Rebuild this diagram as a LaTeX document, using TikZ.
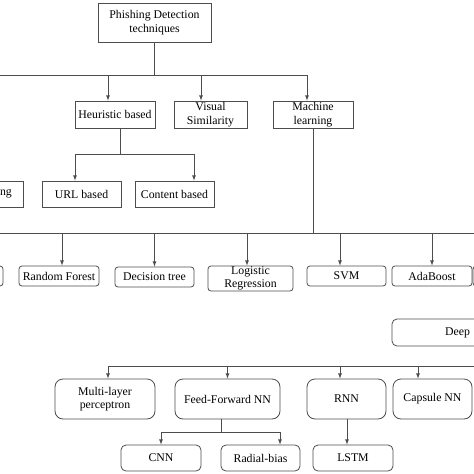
\documentclass[tikz,border=0pt]{standalone}
\usepackage{fontspec}
\setmainfont{Liberation Serif}
\usetikzlibrary{arrows,positioning}
\definecolor{edgegray}{HTML}{4D4D4D}

\tikzset{
  tbox/.style={draw=edgegray,line width=0.8pt,fill=white,inner sep=0pt,align=center,minimum height=27pt},
  mlbox/.style={tbox,rounded corners=3pt,minimum height=20pt},
  subbox/.style={tbox,rounded corners=5pt,minimum height=26pt},
  dlbox/.style={tbox,rounded corners=8pt,minimum height=40pt},
  conn/.style={draw=edgegray,line width=0.8pt},
  arr/.style={conn,-latex},
}

\begin{document}
\begin{tikzpicture}[x=1pt,y=-1pt,font=\fontsize{11.8}{13.5}\selectfont]
\useasboundingbox (0,0) rectangle (474,474);
\clip (0,0) rectangle (474,474);

%start from the root box
\node[tbox,minimum width=113pt,minimum height=39pt] (pdt) at (154.5,22.5) {Phishing Detection\\techniques};

%second level
\node[tbox,minimum width=80pt] (heur) at (115,114.5) {Heuristic based};
\node[tbox,minimum width=73pt] (vis) at (210.5,114.5) {Visual\\Similarity};
\node[tbox,minimum width=80pt] (ml) at (313,114.5) {Machine\\learning};

\coordinate (topbusL) at (-20,75);
\draw[conn] (pdt.south) -- (pdt.south |- topbusL);
\draw[arr] (topbusL) -| ([xshift=-6pt]ml.north);
\draw[arr] ([xshift=-7pt]heur.north |- topbusL) -- ([xshift=-7pt]heur.north);
\draw[arr] ([xshift=-9.5pt]vis.north |- topbusL) -- ([xshift=-9.5pt]vis.north);

%heuristic branch
\node[tbox,minimum width=80pt,minimum height=26pt] (lst) at (-17,194) {};
\node[anchor=east,inner sep=0pt] (lsttext) at (12,194) {ng};
\node[tbox,minimum width=79pt,minimum height=26pt] (url) at (81.5,194) {URL based};
\node[tbox,minimum width=79pt,minimum height=26pt] (cont) at (174.5,194) {Content based};

\draw[conn] ([xshift=5pt]heur.south) -- ++(0,26) coordinate (heurbus);
\draw[arr] (heurbus) -| ([xshift=-6.5pt]url.north);
\draw[arr] (heurbus) -| ([xshift=19.5pt]cont.north);

%machine learning row
\node[mlbox,minimum width=80pt] (mlL) at (-37,276) {};
\node[mlbox,minimum width=80pt] (rf) at (59,276) {Random Forest};
\node[mlbox,minimum width=79pt] (dt) at (154.5,277) {Decision tree};
\node[mlbox,minimum width=85pt,minimum height=25pt] (lr) at (250.5,278.5) {Logistic\\Regression};
\node[mlbox,minimum width=79pt] (svm) at (346.5,276) {SVM};
\node[mlbox,minimum width=80pt] (ada) at (432,276) {AdaBoost};
\node[mlbox,minimum width=80pt] (mlR) at (513,276) {};

\coordinate (mlbusL) at (-20,233);
\coordinate (mlbusR) at (500,233);
\draw[conn] (ml.south) -- (ml.south |- mlbusL);
\draw[conn] (mlbusL) -- (mlbusR);
\draw[arr] ([xshift=3pt]rf.north |- mlbusL) -- ([xshift=3pt]rf.north);
\draw[arr] (dt.north |- mlbusL) -- (dt.north);
\draw[arr] ([xshift=-3.5pt]lr.north |- mlbusL) -- ([xshift=-3.5pt]lr.north);
\draw[arr] ([xshift=-6.5pt]svm.north |- mlbusL) -- ([xshift=-6.5pt]svm.north);
\draw[arr] (ada.north |- mlbusL) -- (ada.north);

%deep learning
\node[subbox,minimum width=172pt,minimum height=27pt] (deep) at (478,332.5) {};
\node[anchor=west,inner sep=0pt] (deeptext) at (445,332.5) {Deep};

\node[dlbox,minimum width=100pt] (mlp) at (105,399) {Multi-layer\\perceptron};
\node[dlbox,minimum width=105pt] (ff) at (227.5,399) {Feed-Forward NN};
\node[dlbox,minimum width=79pt] (rnn) at (346.5,399) {RNN};
\node[dlbox,minimum width=79pt] (caps) at (432.5,399) {Capsule NN};

\coordinate (dlbusR) at (500,366);
\draw[conn] (deep.south) -- (deep.south |- dlbusR);
\draw[conn] ([xshift=3pt]mlp.north |- dlbusR) -- (dlbusR);
\draw[arr] ([xshift=3pt]mlp.north |- dlbusR) -- ([xshift=3pt]mlp.north);
\draw[arr] (ff.north |- dlbusR) -- (ff.north);
\draw[arr] ([xshift=-6.5pt]rnn.north |- dlbusR) -- ([xshift=-6.5pt]rnn.north);
\draw[arr] ([xshift=-14.5pt]caps.north |- dlbusR) -- ([xshift=-14.5pt]caps.north);

%last row
\node[subbox,minimum width=80pt] (cnn) at (161,458) {CNN};
\node[subbox,minimum width=79pt] (rbf) at (260.5,458) {Radial-bias};
\node[subbox,minimum width=80pt] (lstm) at (353,458) {LSTM};

\draw[conn] ([xshift=-6.5pt]ff.south) -- ++(0,13) coordinate (ffbus);
\draw[arr] (ffbus) -| (cnn.north);
\draw[arr] (ffbus) -| ([xshift=19.5pt]rbf.north);
\draw[arr] ([xshift=0.5pt]rnn.south) -- ([xshift=0.5pt]rnn.south |- lstm.north);

\end{tikzpicture}
\end{document}
